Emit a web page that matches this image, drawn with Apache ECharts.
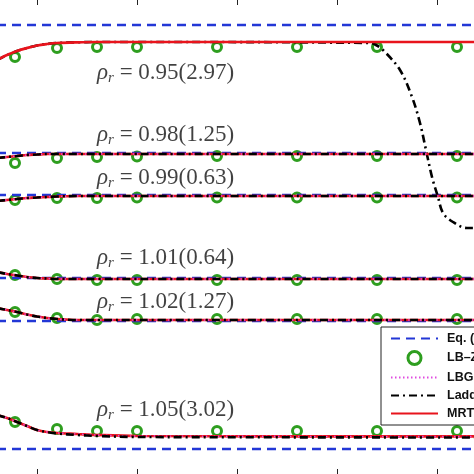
<!DOCTYPE html>
<html><head><meta charset="utf-8">
<script src="https://cdn.jsdelivr.net/npm/echarts@6/dist/echarts.min.js"></script>
<style>html,body{margin:0;padding:0;background:#fff}#c{width:474px;height:474px}</style>
</head><body><div id="c"></div>
<script>
// x: time-like axis, ticks every 0.5 ; y: arbitrary stacked offset units
const xTicks = [0, 0.5, 1.0, 1.5, 2.0, 2.5, 3.0];
const caseLabels = ['0.95(2.97)', '0.98(1.25)', '0.99(0.63)', '1.01(0.64)', '1.02(1.27)', '1.05(3.02)'];
const labelX = [0.8, 0.8, 0.8, 0.8, 0.8, 0.8];
const labelY = [402, 340, 297, 217, 173, 65];

const eqLevels = [450, 322, 280, 197, 154, 26];

const xLine = [0.30, 0.35, 0.40, 0.45, 0.50, 0.55, 0.60, 0.70, 0.80, 1.00, 3.00];
const mrt095 = [415, 420, 424, 427, 429.5, 431, 432, 432.7, 433, 433, 433];
const mrt098 = [317, 318, 319, 320, 320.5, 321, 321, 321, 321, 321, 321];
const mrt099 = [274, 275, 276, 277, 277.5, 278, 278.5, 279, 279, 279, 279];
const mrt101 = [203, 201, 199.5, 198, 197, 196.5, 196, 196, 196, 196, 196];
const mrt102 = [167, 165, 163, 160.5, 158.5, 157, 156, 155, 155, 155, 155];
const mrt105 = [60, 57, 53, 49, 45, 43, 42, 41, 40, 39, 38.5];
const ladd105 = [60, 57, 53, 49, 45, 43, 41.5, 40, 39, 38, 37.5];

const xLadd095 = [0.30, 0.35, 0.40, 0.45, 0.50, 0.55, 0.60, 0.70, 0.80, 1.00, 2.165, 2.195, 2.23, 2.315, 2.375, 2.415, 2.445, 2.475, 2.505, 2.53, 2.58, 2.65, 3.0];
const ladd095 = [415, 420, 424, 427, 429.5, 431, 432, 432.7, 433, 433, 432, 430, 425, 405, 378, 352, 325, 298, 278, 262, 253, 247, 247];

const xCirc = [0.39, 0.6, 0.8, 1.0, 1.4, 1.8, 2.2, 2.6];
const lb095 = [418, 427, 428, 428, 428, 428, 428, 428];
const lb098 = [312, 317, 318, 318.5, 319, 319, 319, 319];
const lb099 = [275, 277, 277, 277.5, 277.5, 277.5, 277.5, 277.5];
const lb101 = [200, 196, 195, 195, 195, 195, 195, 195];
const lb102 = [163, 157, 155, 156, 156, 156, 156, 156];
const lb105 = [53, 46, 44, 44, 44, 44, 44, 44];

const NAMES = ['Eq. (32)', 'LB\u2013Zhang', 'LBGK', 'Ladd', 'MRT'];
const C = {eq: '#2337d6', lb: '#2e9e1f', lbg: '#e04ae0', ladd: '#000000', mrt: '#e8141c'};

const zip = (xs, ys) => xs.map((x, i) => [x, ys[i]]);
const series = [];

eqLevels.forEach(v => series.push({
  name: NAMES[0], type: 'line', symbol: 'none', silent: true,
  data: [[0, v], [3, v]],
  lineStyle: {color: C.eq, width: 2.6, type: [9, 6]}, itemStyle: {color: C.eq}
}));

[lb095, lb098, lb099, lb101, lb102, lb105].forEach(ys => series.push({
  name: NAMES[1], type: 'scatter', symbol: 'circle', symbolSize: 9,
  data: zip(xCirc, ys),
  itemStyle: {color: 'rgba(255,255,255,0)', borderColor: C.lb, borderWidth: 3, opacity: 1}
}));

// Ladd 0.95 under MRT
series.push({
  name: NAMES[3], type: 'line', symbol: 'none', smooth: 0.35,
  data: zip(xLadd095, ladd095),
  lineStyle: {color: C.ladd, width: 2.6, type: [8, 4, 2, 4]}, itemStyle: {color: C.ladd}
});

const mrts = [mrt095, mrt098, mrt099, mrt101, mrt102, mrt105];
mrts.forEach(ys => series.push({
  name: NAMES[4], type: 'line', symbol: 'none', smooth: 0.35,
  data: zip(xLine, ys),
  lineStyle: {color: C.mrt, width: 2.7}, itemStyle: {color: C.mrt}
}));

mrts.slice(1).forEach(ys => series.push({
  name: NAMES[2], type: 'line', symbol: 'none', smooth: 0.35,
  data: zip(xLine, ys),
  lineStyle: {color: C.lbg, width: 1.4, type: [1.5, 2.5]}, itemStyle: {color: C.lbg}
}));

[mrt098, mrt099, mrt101, mrt102, ladd105].forEach(ys => series.push({
  name: NAMES[3], type: 'line', symbol: 'none', smooth: 0.35,
  data: zip(xLine, ys),
  lineStyle: {color: C.ladd, width: 2.6, type: [8, 4, 2, 4]}, itemStyle: {color: C.ladd}
}));

series.push({
  type: 'scatter', symbolSize: 0, silent: true,
  data: caseLabels.map((t, i) => ({value: [labelX[i], labelY[i]], name: t})),
  label: {
    show: true, position: 'right', distance: 0, color: '#111',
    formatter: p => '{a|\u03c1}{b|r}{c| = ' + p.name + '}',
    rich: {
      a: {fontFamily: 'Liberation Serif', fontStyle: 'italic', fontSize: 23, color: '#111'},
      b: {fontFamily: 'Liberation Serif', fontStyle: 'italic', fontSize: 15, color: '#111', padding: [10, 0, 0, 0]},
      c: {fontFamily: 'Liberation Serif', fontSize: 23, color: '#111'}
    }
  }
});

const chart = echarts.init(document.getElementById('c'), null, {renderer: 'canvas'});
const tickAxis = pos => ({
  type: 'value', position: pos, min: xTicks[0], max: xTicks[xTicks.length - 1], interval: 0.5,
  axisLine: {show: true, lineStyle: {color: '#222', width: 1}},
  axisTick: {show: true, inside: true, length: 6, lineStyle: {color: '#222', width: 1}},
  axisLabel: {show: false}, splitLine: {show: false}
});
const noSym = {itemStyle: {opacity: 0}};
chart.setOption({
  animation: false,
  backgroundColor: '#fff',
  grid: {left: -63, top: -1, width: 600, height: 476, containLabel: false, outerBoundsMode: 'none'},
  xAxis: [tickAxis('bottom'), tickAxis('top')],
  yAxis: {type: 'value', min: 0, max: 476, show: false},
  legend: {
    data: [
      Object.assign({name: NAMES[0]}, noSym),
      {name: NAMES[1], icon: 'circle', itemStyle: {color: 'rgba(255,255,255,0)', borderColor: C.lb, borderWidth: 3}},
      Object.assign({name: NAMES[2]}, noSym),
      Object.assign({name: NAMES[3]}, noSym),
      Object.assign({name: NAMES[4]}, noSym)
    ],
    orient: 'vertical', left: 381, top: 327,
    padding: [5, 40, 5, 9], itemGap: 5, itemWidth: 47, itemHeight: 13,
    backgroundColor: '#fff', borderColor: '#222', borderWidth: 1, borderRadius: 0,
    textStyle: {fontFamily: 'Liberation Sans', fontWeight: 'bold', fontSize: 12.5, color: '#111', padding: [0, 0, 0, 4]}
  },
  series: series
});
</script></body></html>
